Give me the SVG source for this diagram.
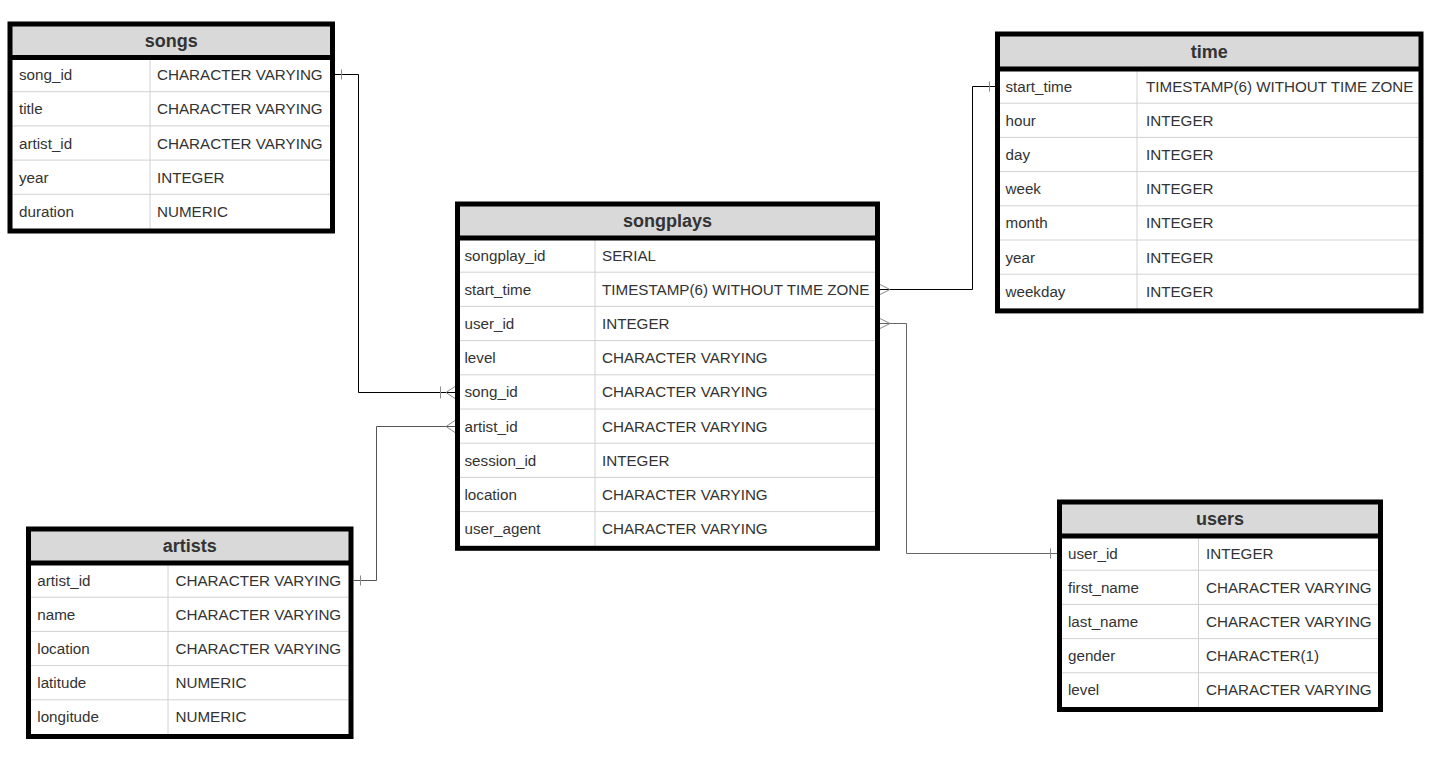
<svg xmlns="http://www.w3.org/2000/svg" width="1436" height="782" viewBox="0 0 1436 782">
<style>
.bg{fill:#ffffff}
.hdr{fill:#d9d9d9}
.frame{fill:none;stroke:#000;stroke-width:5}
.hsep{stroke:#000;stroke-width:5}
.rsep{stroke:#d2d2d2;stroke-width:1}
.div{stroke:#d2d2d2;stroke-width:1}
.title{font-family:"Liberation Sans",Arial,sans-serif;font-size:18px;font-weight:bold;fill:#333;text-anchor:middle}
.cell{font-family:"Liberation Sans",Arial,sans-serif;font-size:15.2px;fill:#333}
.link{fill:none;stroke-width:1}
.mark{fill:none;stroke:#8a8a8a;stroke-width:1}
</style>
<rect class="bg" x="0" y="0" width="1436" height="782"/>

<g id="songs">
<rect class="hdr" x="10" y="24" width="322.5" height="33.5"/>
<line class="rsep" x1="12.5" x2="332.5" y1="91.7" y2="91.7"/>
<line class="rsep" x1="12.5" x2="332.5" y1="125.9" y2="125.9"/>
<line class="rsep" x1="12.5" x2="332.5" y1="160.1" y2="160.1"/>
<line class="rsep" x1="12.5" x2="332.5" y1="194.3" y2="194.3"/>
<line class="div" x1="150" x2="150" y1="57.5" y2="231"/>
<rect class="frame" x="10" y="24" width="322.5" height="207"/>
<line class="hsep" x1="10" x2="332.5" y1="57.5" y2="57.5"/>
<text class="title" x="171.25" y="47">songs</text>
<text class="cell" x="19" y="80.1">song_id</text><text class="cell" x="157" y="80.1">CHARACTER VARYING</text>
<text class="cell" x="19" y="114.3">title</text><text class="cell" x="157" y="114.3">CHARACTER VARYING</text>
<text class="cell" x="19" y="148.5">artist_id</text><text class="cell" x="157" y="148.5">CHARACTER VARYING</text>
<text class="cell" x="19" y="182.7">year</text><text class="cell" x="157" y="182.7">INTEGER</text>
<text class="cell" x="19" y="216.9">duration</text><text class="cell" x="157" y="216.9">NUMERIC</text>
</g>

<g id="songplays">
<rect class="hdr" x="457.5" y="204" width="420" height="34"/>
<line class="rsep" x1="460" x2="875" y1="272.2" y2="272.2"/>
<line class="rsep" x1="460" x2="875" y1="306.4" y2="306.4"/>
<line class="rsep" x1="460" x2="875" y1="340.6" y2="340.6"/>
<line class="rsep" x1="460" x2="875" y1="374.8" y2="374.8"/>
<line class="rsep" x1="460" x2="875" y1="409" y2="409"/>
<line class="rsep" x1="460" x2="875" y1="443.2" y2="443.2"/>
<line class="rsep" x1="460" x2="875" y1="477.4" y2="477.4"/>
<line class="rsep" x1="460" x2="875" y1="511.6" y2="511.6"/>
<line class="div" x1="595" x2="595" y1="238" y2="548"/>
<rect class="frame" x="457.5" y="204" width="420" height="344.3"/>
<line class="hsep" x1="457.5" x2="877.5" y1="238" y2="238"/>
<text class="title" x="667.5" y="227">songplays</text>
<text class="cell" x="464.5" y="260.6">songplay_id</text><text class="cell" x="602" y="260.6">SERIAL</text>
<text class="cell" x="464.5" y="294.8">start_time</text><text class="cell" x="602" y="294.8">TIMESTAMP(6) WITHOUT TIME ZONE</text>
<text class="cell" x="464.5" y="329">user_id</text><text class="cell" x="602" y="329">INTEGER</text>
<text class="cell" x="464.5" y="363.2">level</text><text class="cell" x="602" y="363.2">CHARACTER VARYING</text>
<text class="cell" x="464.5" y="397.4">song_id</text><text class="cell" x="602" y="397.4">CHARACTER VARYING</text>
<text class="cell" x="464.5" y="431.6">artist_id</text><text class="cell" x="602" y="431.6">CHARACTER VARYING</text>
<text class="cell" x="464.5" y="465.8">session_id</text><text class="cell" x="602" y="465.8">INTEGER</text>
<text class="cell" x="464.5" y="500">location</text><text class="cell" x="602" y="500">CHARACTER VARYING</text>
<text class="cell" x="464.5" y="534.2">user_agent</text><text class="cell" x="602" y="534.2">CHARACTER VARYING</text>
</g>

<g id="time">
<rect class="hdr" x="997.5" y="34" width="423.5" height="35"/>
<line class="rsep" x1="1000" x2="1418.5" y1="103.2" y2="103.2"/>
<line class="rsep" x1="1000" x2="1418.5" y1="137.4" y2="137.4"/>
<line class="rsep" x1="1000" x2="1418.5" y1="171.6" y2="171.6"/>
<line class="rsep" x1="1000" x2="1418.5" y1="205.8" y2="205.8"/>
<line class="rsep" x1="1000" x2="1418.5" y1="240" y2="240"/>
<line class="rsep" x1="1000" x2="1418.5" y1="274.2" y2="274.2"/>
<line class="div" x1="1137" x2="1137" y1="69" y2="311"/>
<rect class="frame" x="997.5" y="34" width="423.5" height="276.9"/>
<line class="hsep" x1="997.5" x2="1421" y1="69" y2="69"/>
<text class="title" x="1209.25" y="57.5">time</text>
<text class="cell" x="1005.5" y="91.6">start_time</text><text class="cell" x="1146" y="91.6">TIMESTAMP(6) WITHOUT TIME ZONE</text>
<text class="cell" x="1005.5" y="125.8">hour</text><text class="cell" x="1146" y="125.8">INTEGER</text>
<text class="cell" x="1005.5" y="160">day</text><text class="cell" x="1146" y="160">INTEGER</text>
<text class="cell" x="1005.5" y="194.2">week</text><text class="cell" x="1146" y="194.2">INTEGER</text>
<text class="cell" x="1005.5" y="228.4">month</text><text class="cell" x="1146" y="228.4">INTEGER</text>
<text class="cell" x="1005.5" y="262.6">year</text><text class="cell" x="1146" y="262.6">INTEGER</text>
<text class="cell" x="1005.5" y="296.8">weekday</text><text class="cell" x="1146" y="296.8">INTEGER</text>
</g>

<g id="users">
<rect class="hdr" x="1059.5" y="502" width="321" height="34"/>
<line class="rsep" x1="1062" x2="1378" y1="570.2" y2="570.2"/>
<line class="rsep" x1="1062" x2="1378" y1="604.4" y2="604.4"/>
<line class="rsep" x1="1062" x2="1378" y1="638.6" y2="638.6"/>
<line class="rsep" x1="1062" x2="1378" y1="672.8" y2="672.8"/>
<line class="div" x1="1198.5" x2="1198.5" y1="536" y2="707"/>
<rect class="frame" x="1059.5" y="502" width="321" height="207.5"/>
<line class="hsep" x1="1059.5" x2="1380.5" y1="536" y2="536"/>
<text class="title" x="1220" y="525">users</text>
<text class="cell" x="1068" y="558.6">user_id</text><text class="cell" x="1206" y="558.6">INTEGER</text>
<text class="cell" x="1068" y="592.8">first_name</text><text class="cell" x="1206" y="592.8">CHARACTER VARYING</text>
<text class="cell" x="1068" y="627">last_name</text><text class="cell" x="1206" y="627">CHARACTER VARYING</text>
<text class="cell" x="1068" y="661.2">gender</text><text class="cell" x="1206" y="661.2">CHARACTER(1)</text>
<text class="cell" x="1068" y="695.4">level</text><text class="cell" x="1206" y="695.4">CHARACTER VARYING</text>
</g>

<g id="artists">
<rect class="hdr" x="28.5" y="529" width="322.5" height="34"/>
<line class="rsep" x1="31" x2="348.5" y1="597.2" y2="597.2"/>
<line class="rsep" x1="31" x2="348.5" y1="631.4" y2="631.4"/>
<line class="rsep" x1="31" x2="348.5" y1="665.6" y2="665.6"/>
<line class="rsep" x1="31" x2="348.5" y1="699.8" y2="699.8"/>
<line class="div" x1="168" x2="168" y1="563" y2="734"/>
<rect class="frame" x="28.5" y="529" width="322.5" height="207.5"/>
<line class="hsep" x1="28.5" x2="351" y1="563" y2="563"/>
<text class="title" x="189.75" y="552">artists</text>
<text class="cell" x="37.3" y="585.6">artist_id</text><text class="cell" x="175.5" y="585.6">CHARACTER VARYING</text>
<text class="cell" x="37.3" y="619.8">name</text><text class="cell" x="175.5" y="619.8">CHARACTER VARYING</text>
<text class="cell" x="37.3" y="654">location</text><text class="cell" x="175.5" y="654">CHARACTER VARYING</text>
<text class="cell" x="37.3" y="688.2">latitude</text><text class="cell" x="175.5" y="688.2">NUMERIC</text>
<text class="cell" x="37.3" y="722.4">longitude</text><text class="cell" x="175.5" y="722.4">NUMERIC</text>
</g>

<g id="connectors">
<path class="link" stroke="#000" d="M335,74.5 H358.5 V392.5 H455"/>
<path class="mark" d="M341.5,69.5 V79.5"/>
<path class="mark" d="M440.5,386.5 V398.5"/>
<path class="mark" d="M455,386.5 L446,392.5 L455,398.5"/>

<path class="link" stroke="#555" d="M353.5,580.5 H376.5 V426.5 H455"/>
<path class="mark" d="M360.5,575.5 V585.5"/>
<path class="mark" d="M455,420.5 L446,426.5 L455,432.5"/>

<path class="link" stroke="#000" d="M880,289.5 H972.5 V86.5 H995"/>
<path class="mark" d="M880,284.5 L890,289.5 L880,294.5"/>
<path class="mark" d="M989.5,81.5 V91.5"/>

<path class="link" stroke="#666" d="M880,323.5 H906.5 V553.5 H1057"/>
<path class="mark" d="M880,318.5 L890,323.5 L880,328.5"/>
<path class="mark" d="M1050.5,548.5 V558.5"/>
</g>
</svg>
